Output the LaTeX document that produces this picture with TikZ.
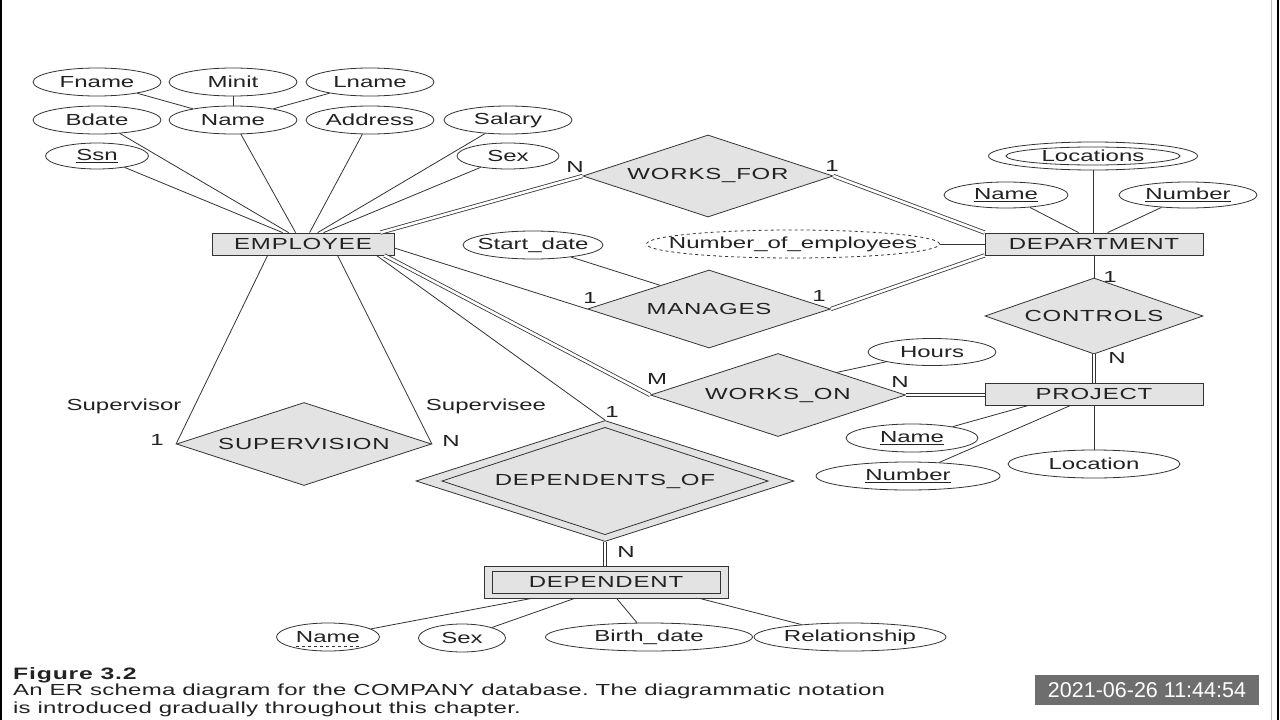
\documentclass[tikz,border=0pt]{standalone}
\usepackage{fontspec}
\setmainfont{Liberation Sans}[FakeStretch=1.5]
\newfontfamily\stampfont{Liberation Sans}
\usetikzlibrary{shapes.geometric,calc}
\definecolor{ink}{HTML}{222222}
\definecolor{edgec}{HTML}{333333}
\definecolor{shade}{HTML}{E3E3E3}
\definecolor{stampgray}{HTML}{6E6E6E}
\newcommand{\zw}[1]{\makebox[0pt]{#1}}
\frenchspacing
\begin{document}
\begin{tikzpicture}[x=1pt,y=-1pt,
  lbl/.style={font=\fontsize{16}{18}\selectfont, text=ink, inner sep=0pt},
  capsfont/.style={font=\fontsize{16}{18}\selectfont\addfontfeature{LetterSpace=5}},
  attrib/.style={lbl, ellipse, draw=edgec, line width=0.8pt, fill=white, minimum width=#1, minimum height=28pt},
  attrib/.default=128pt,
  entity/.style={lbl, capsfont, rectangle, draw=edgec, line width=0.8pt, fill=shade, minimum width=218pt, minimum height=22pt},
  relship/.style={lbl, capsfont, diamond, draw=edgec, line width=0.8pt, fill=shade},
  conn/.style={draw=edgec, line width=0.8pt},
  dbl/.style={draw=edgec, line width=0.8pt, double=white, double distance=2.6pt},
  cardlbl/.style={lbl},
]
\useasboundingbox (0,0) rectangle (1280,720);
\fill[white] (0,0) rectangle (1280,720);
\draw[black, line width=2pt] (1,0) -- (1,720);
\draw[black, line width=2pt] (1278,0) -- (1278,720);
\draw[black!25, line width=1pt] (1271,0) -- (1271,720);

% EMPLOYEE attributes
\node[attrib] (fname) at (97,82) {\zw{Fname}};
\node[attrib] (minit) at (233,82) {\zw{Minit}};
\node[attrib] (lname) at (370,82) {\zw{Lname}};
\node[attrib] (bdate) at (97,120) {\zw{Bdate}};
\node[attrib] (ename) at (233,120) {\zw{Name}};
\node[attrib] (addr) at (370,120) {\zw{Address}};
\node[attrib] (salary) at (508,120) {\zw{Salary}};
\node[attrib=103pt, minimum height=26pt] (ssn) at (97,156) {\zw{\underline{Ssn}}};
\node[attrib=102pt, minimum height=26pt] (esex) at (508,156) {\zw{Sex}};

% entities
\node[entity, minimum width=182pt] (emp) at (303,244) {\zw{EMPLOYEE}};
\node[entity] (dept) at (1094,244) {\zw{DEPARTMENT}};
\node[entity] (proj) at (1094,394) {\zw{PROJECT}};
\node[entity, minimum width=244pt, minimum height=32pt] (dependent) at (606,582) {\zw{DEPENDENT}};
\draw[conn] ($(dependent.center)+(-114,-11)$) rectangle ($(dependent.center)+(114,11)$);

% relationships
\node[relship, minimum width=250pt, minimum height=82pt] (worksfor) at (708,176) {\zw{WORKS\_FOR}};
\node[relship, minimum width=243pt, minimum height=78pt] (manages) at (709,309) {\zw{MANAGES}};
\node[relship, minimum width=218pt, minimum height=76pt] (controls) at (1094,316) {\zw{CONTROLS}};
\node[relship, minimum width=255pt, minimum height=83pt] (workson) at (778,395) {\zw{WORKS\_ON}};
\node[relship, minimum width=255pt, minimum height=83pt] (supervision) at (304,444) {\zw{SUPERVISION}};
\node[relship, minimum width=378pt, minimum height=121pt] (depof) at (605,481) {\zw{DEPENDENTS\_OF}};
\draw[conn] ($(depof.center)+(-163,0)$) -- ($(depof.center)+(0,-53.5)$) -- ($(depof.center)+(163,0)$) -- ($(depof.center)+(0,53.5)$) -- cycle;

% department attributes
\node[attrib=209pt, minimum height=28pt] (locs) at (1093,156) {\zw{Locations}};
\draw[conn] (locs.center) ellipse (87 and 9);
\node[attrib=124pt, minimum height=26pt] (dname) at (1006,195) {\zw{\underline{Name}}};
\node[attrib=138pt, minimum height=26pt] (dnum) at (1188,195) {\zw{\underline{Number}}};
\node[attrib=293pt, dashed] (numemp) at (793,244) {\zw{Number\_of\_employees}};
\node[attrib=140pt] (sdate) at (533,245) {\zw{Start\_date}};

% project attributes
\node[attrib=128pt, minimum height=27pt] (hours) at (932,352) {\zw{Hours}};
\node[attrib=132pt] (pname) at (912,438) {\zw{\underline{Name}}};
\node[attrib=184pt] (pnum) at (908,476) {\zw{\underline{Number}}};
\node[attrib=172pt] (ploc) at (1094,464) {\zw{Location}};

% dependent attributes
\node[attrib=103pt] (depname) at (328,637) {\zw{Name}};
\draw[edgec, dashed, line width=0.8pt] ($(depname.center)+(-32,9)$) -- ($(depname.center)+(32,9)$);
\node[attrib=87pt] (depsex) at (462,638) {\zw{Sex}};
\node[attrib=207pt] (bdate2) at (649,637) {\zw{Birth\_date}};
\node[attrib=192pt] (relat) at (850,637) {\zw{Relationship}};

% connectors: employee attributes
\draw[conn] (fname) -- (ename);
\draw[conn] (minit) -- (ename);
\draw[conn] (lname) -- (ename);
\draw[conn] (ssn) -- ([xshift=71pt]emp.north west);
\draw[conn] (bdate) -- ([xshift=77pt]emp.north west);
\draw[conn] (ename) -- ([xshift=84pt]emp.north west);
\draw[conn] (addr) -- ([xshift=98pt]emp.north west);
\draw[conn] (salary) -- ([xshift=106pt]emp.north west);
\draw[conn] (esex) -- ([xshift=112pt]emp.north west);

% relationships
\draw[dbl] ([xshift=-14pt]emp.north east) -- (worksfor.west);
\draw[dbl] (worksfor.east) -- (dept.north west);
\draw[conn] ([yshift=-4pt]emp.east) -- (manages.west);
\draw[dbl] (manages.east) -- (dept.south west);
\draw[conn] (sdate) -- ($(manages.west)!0.6!(manages.north)$);
\draw[conn] (numemp) -- (dept);
\draw[conn] (locs) -- (locs |- dept.north);
\draw[conn] (dname) -- ([xshift=94pt]dept.north west);
\draw[conn] (dnum) -- ([xshift=123pt]dept.north west);
\draw[conn] (dept) -- (controls);
\draw[dbl] (controls) -- (proj);
\draw[conn] (hours) -- ($(workson.north)!0.46!(workson.east)$);
\draw[dbl] ([xshift=-10pt]emp.south east) -- (workson.west);
\draw[dbl] (workson.east) -- (workson.east -| proj.west);
\draw[conn] ([xshift=44pt]proj.south west) -- (pname);
\draw[conn] ([xshift=86pt]proj.south west) -- (pnum);
\draw[conn] (proj) -- (ploc);
\draw[conn] ([xshift=-18pt]emp.south east) -- (depof.north);
\draw[conn] ([xshift=56pt]emp.south west) -- (supervision.west);
\draw[conn] ([xshift=126pt]emp.south west) -- (supervision.east);
\draw[dbl] (depof.south) -- (depof.south |- dependent.north);
\draw[conn] ([xshift=48pt]dependent.south west) -- (depname);
\draw[conn] ([xshift=91pt]dependent.south west) -- (depsex);
\draw[conn] ([xshift=133pt]dependent.south west) -- (bdate2);
\draw[conn] ([xshift=216pt]dependent.south west) -- (relat);

% cardinalities and roles
\node[cardlbl] (c1) at (575,167) {N};
\node[cardlbl] (c2) at (832,166) {1};
\node[cardlbl] (c3) at (590,298) {1};
\node[cardlbl] (c4) at (819,296) {1};
\node[cardlbl] (c5) at (1110,277) {1};
\node[cardlbl] (c6) at (1117,358) {N};
\node[cardlbl] (c7) at (657,379) {M};
\node[cardlbl] (c8) at (900,382) {N};
\node[cardlbl] (c9) at (612,412) {1};
\node[cardlbl] (c10) at (626,552) {N};
\node[cardlbl] (c11) at (157,440) {1};
\node[cardlbl] (c12) at (451,441) {N};
\node[cardlbl] (role1) at (124,406) {Supervisor};
\node[cardlbl] (role2) at (486,406) {Supervisee};

% caption
\node[lbl, anchor=west, font=\fontsize{16.5}{18}\selectfont\bfseries\addfontfeature{LetterSpace=5}] (figlbl) at (13,675) {Figure 3.2};
\node[lbl, anchor=west, font=\fontsize{16}{18}\selectfont\addfontfeature{LetterSpace=1.5}] (cap1) at (13,691) {An ER schema diagram for the COMPANY database. The diagrammatic notation};
\node[lbl, anchor=west, font=\fontsize{16}{18}\selectfont\addfontfeature{LetterSpace=1.5}] (cap2) at (13,709) {is introduced gradually throughout this chapter.};

% timestamp
\node[fill=stampgray, minimum width=224pt, minimum height=30pt, inner sep=0pt, text=white, font=\stampfont\fontsize{21.5}{24}\selectfont] (stamp) at (1147,690) {2021-06-26 11:44:54};
\end{tikzpicture}
\end{document}
